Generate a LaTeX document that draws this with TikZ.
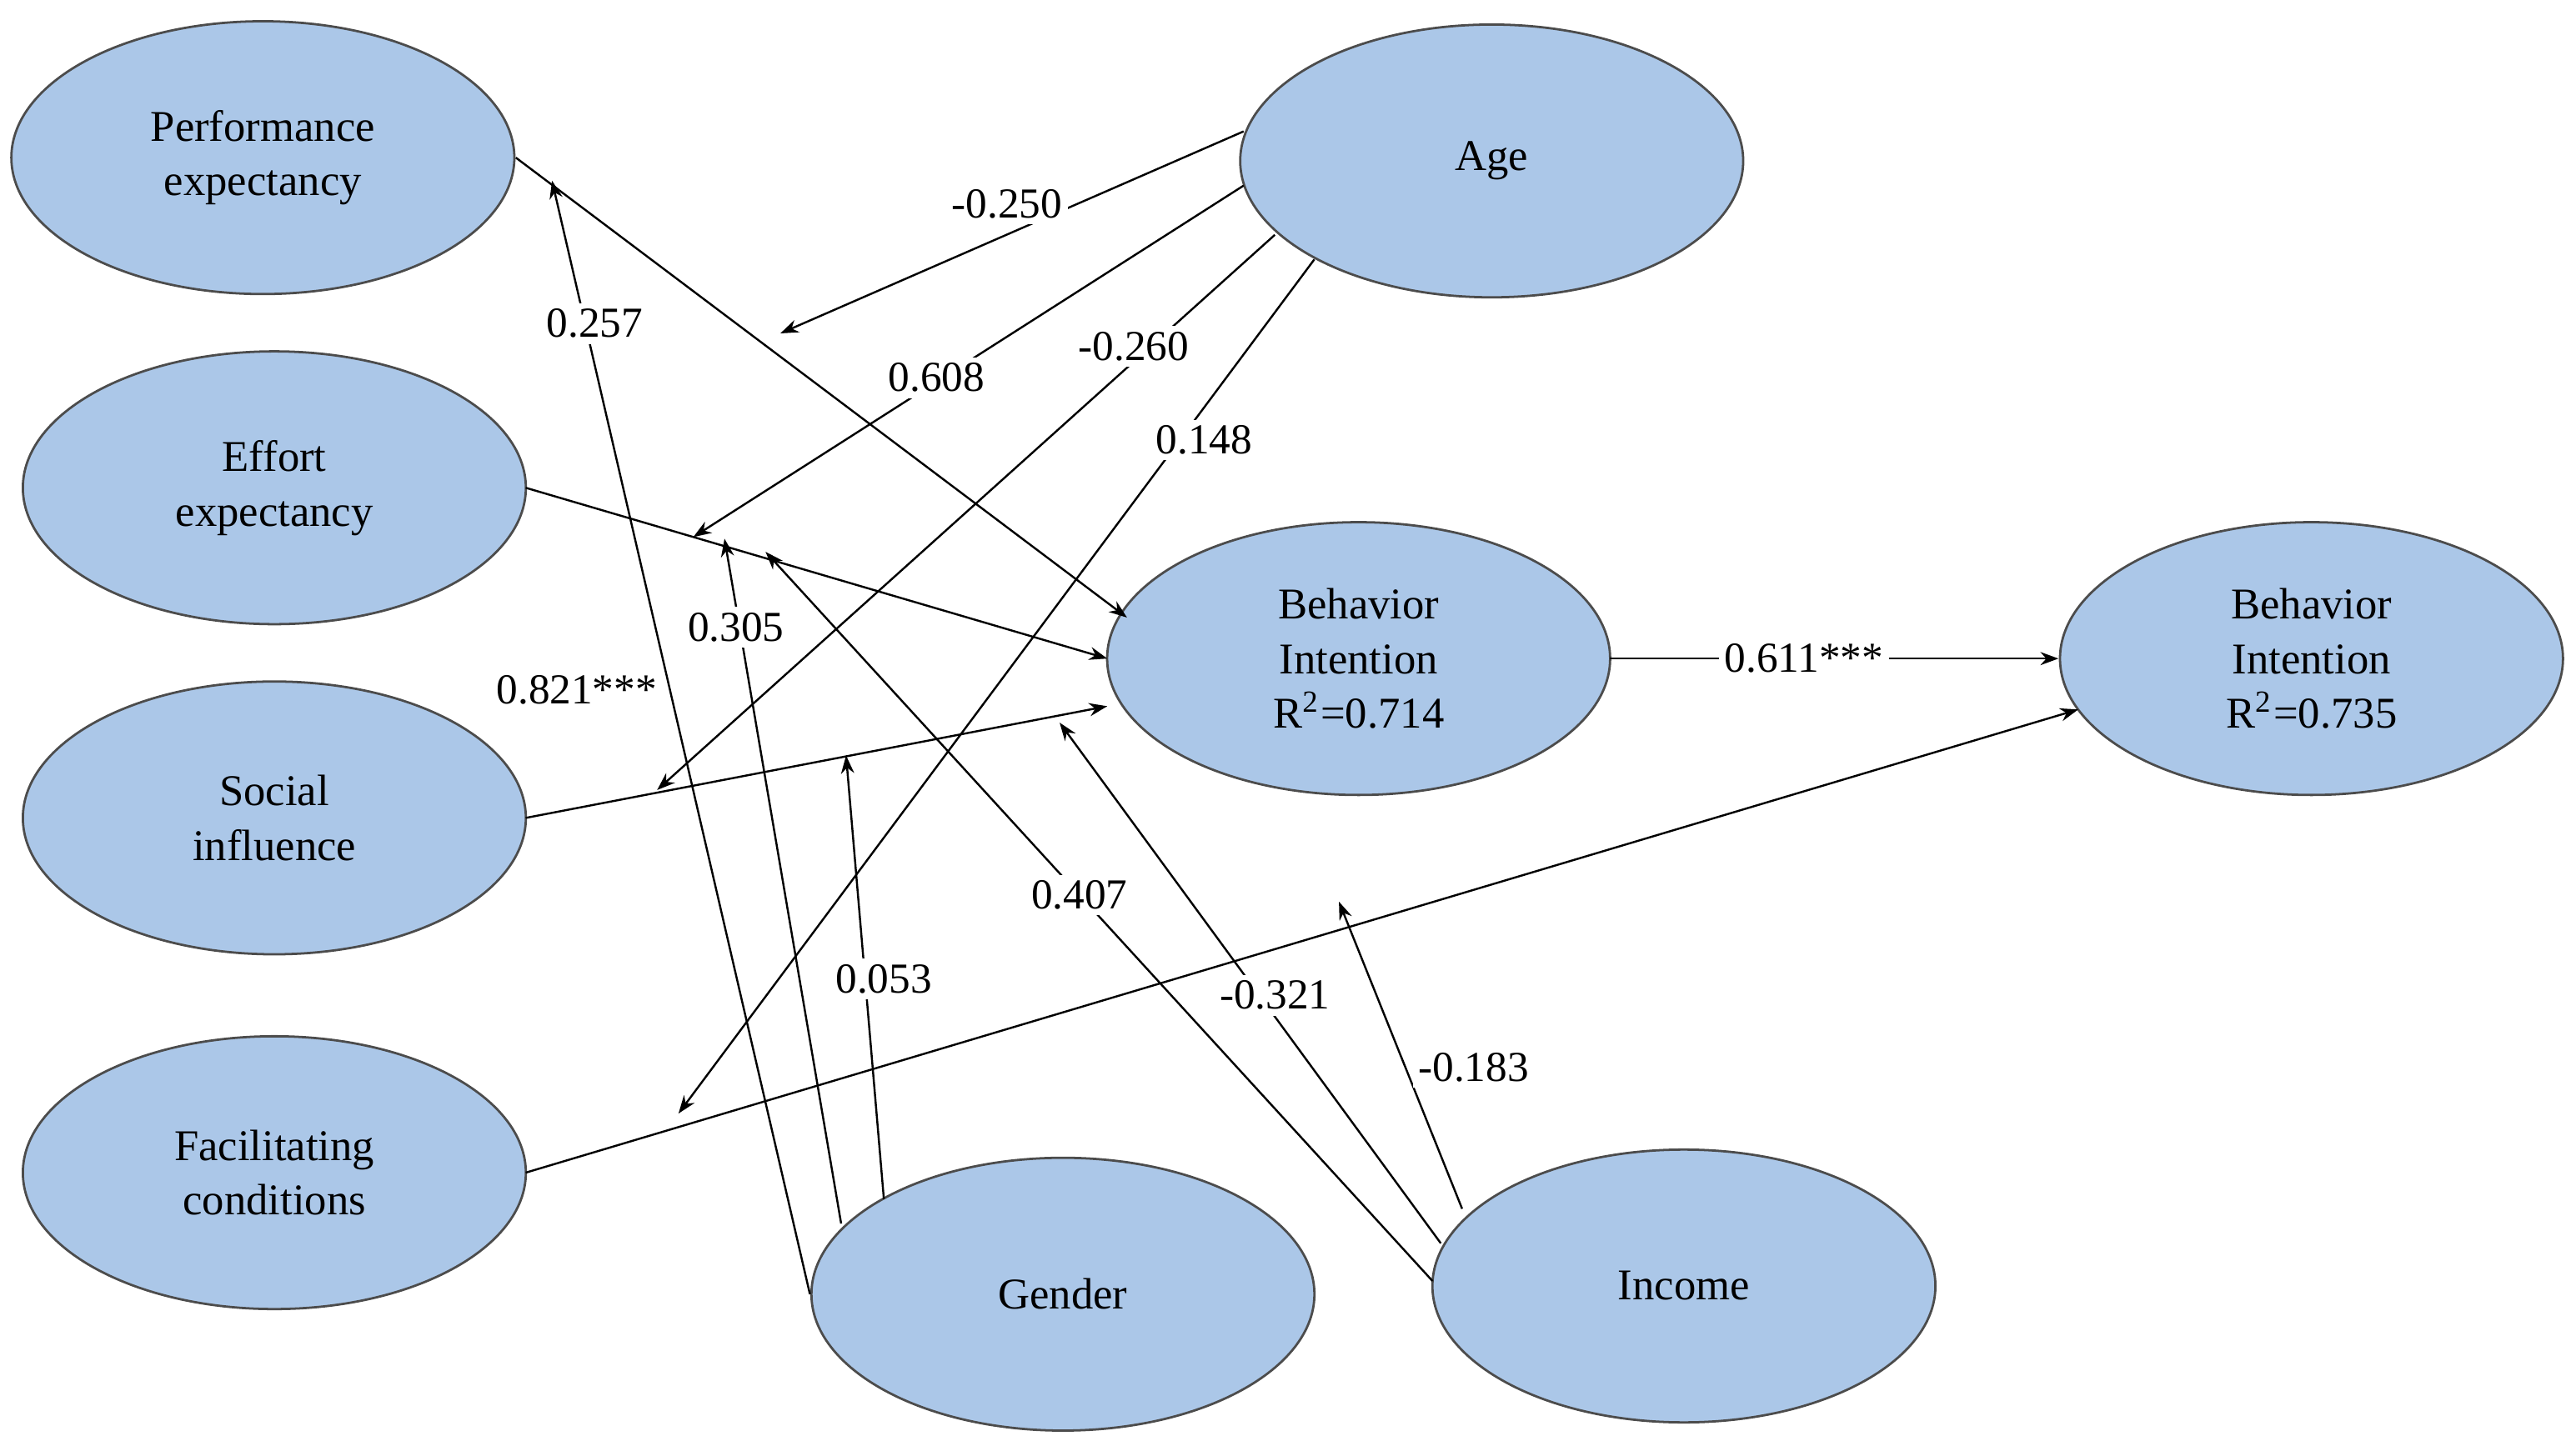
\documentclass[tikz,border=0pt]{standalone}
\usepackage{fontspec}
\setmainfont{Liberation Serif}
\usetikzlibrary{arrows.meta,shapes.geometric}
\begin{document}
\begin{tikzpicture}[x=0.01cm,y=-0.01cm,
  lat/.style={ellipse,draw=black!70,line width=0.4pt,fill={rgb,255:red,171;green,199;blue,232},minimum width=3.06cm,minimum height=1.66cm,align=center,font=\fontsize{7.6}{9.5}\selectfont,inner sep=0pt},
  arr/.style={-{Stealth[length=1.1mm,width=0.8mm]},line width=0.35pt},
  lbl/.style={fill=white,inner sep=1pt,font=\fontsize{7.4}{9}\selectfont}]
\useasboundingbox (0,0) rectangle (1568,880);
\node[lat] (pe) at (160,96) {Performance\\expectancy};
\node[lat] (ee) at (167,297) {Effort\\expectancy};
\node[lat] (si) at (167,498) {Social\\influence};
\node[lat] (fc) at (167,714) {Facilitating\\conditions};
\node[lat] (age) at (908,98) {Age};
\node[lat] (bi1) at (827,401) {Behavior\\Intention\\R\textsuperscript{2}=0.714};
\node[lat] (bi2) at (1407,401) {Behavior\\Intention\\R\textsuperscript{2}=0.735};
\node[lat] (gen) at (647,788) {Gender};
\node[lat] (inc) at (1025,783) {Income};
% coordinates
\coordinate (a1) at (757,80); \coordinate (t1) at (475,203);
\coordinate (a2) at (757,113); \coordinate (t2) at (422,327);
\coordinate (a3) at (776,143); \coordinate (t3) at (400,481);
\coordinate (a4) at (800,158); \coordinate (t4) at (413,678);
\coordinate (g1) at (493,788); \coordinate (u1) at (336,110);
\coordinate (g2) at (512,745); \coordinate (u2) at (441,328);
\coordinate (g3) at (538,730); \coordinate (u3) at (515,460);
\coordinate (i1) at (872,780); \coordinate (v1) at (466,336);
\coordinate (i2) at (877,757); \coordinate (v2) at (645,440);
\coordinate (i3) at (890,736); \coordinate (v3) at (815,549);
% main paths
\draw[arr] (314,96) -- (686,376);
\draw[arr] (320,297) -- (674,401);
\draw[arr] (320,498) -- (674,430);
\draw[arr] (320,714) -- (1265,432);
\draw[arr] (980,401) -- (1253,401);
% moderators
\foreach \s/\t in {a1/t1,a2/t2,a3/t3,a4/t4,g1/u1,g2/u2,g3/u3,i1/v1,i2/v2,i3/v3}
  \draw[arr] (\s) -- (\t);
% labels
\node[lbl] at (1098,401) {0.611***};
\node[lbl] at (613,124) {-0.250};
\node[lbl] at (570,230) {0.608};
\node[lbl] at (690,211) {-0.260};
\node[lbl] at (733,268) {0.148};
\node[lbl] at (362,197) {0.257};
\node[lbl] at (448,382) {0.305};
\node[lbl] at (538,596) {0.053};
\node[lbl] at (657,545) {0.407};
\node[lbl] at (776,606) {-0.321};
\node[lbl] at (897,650) {-0.183};
\node[lbl] at (351,420) {0.821***};
\end{tikzpicture}
\end{document}
